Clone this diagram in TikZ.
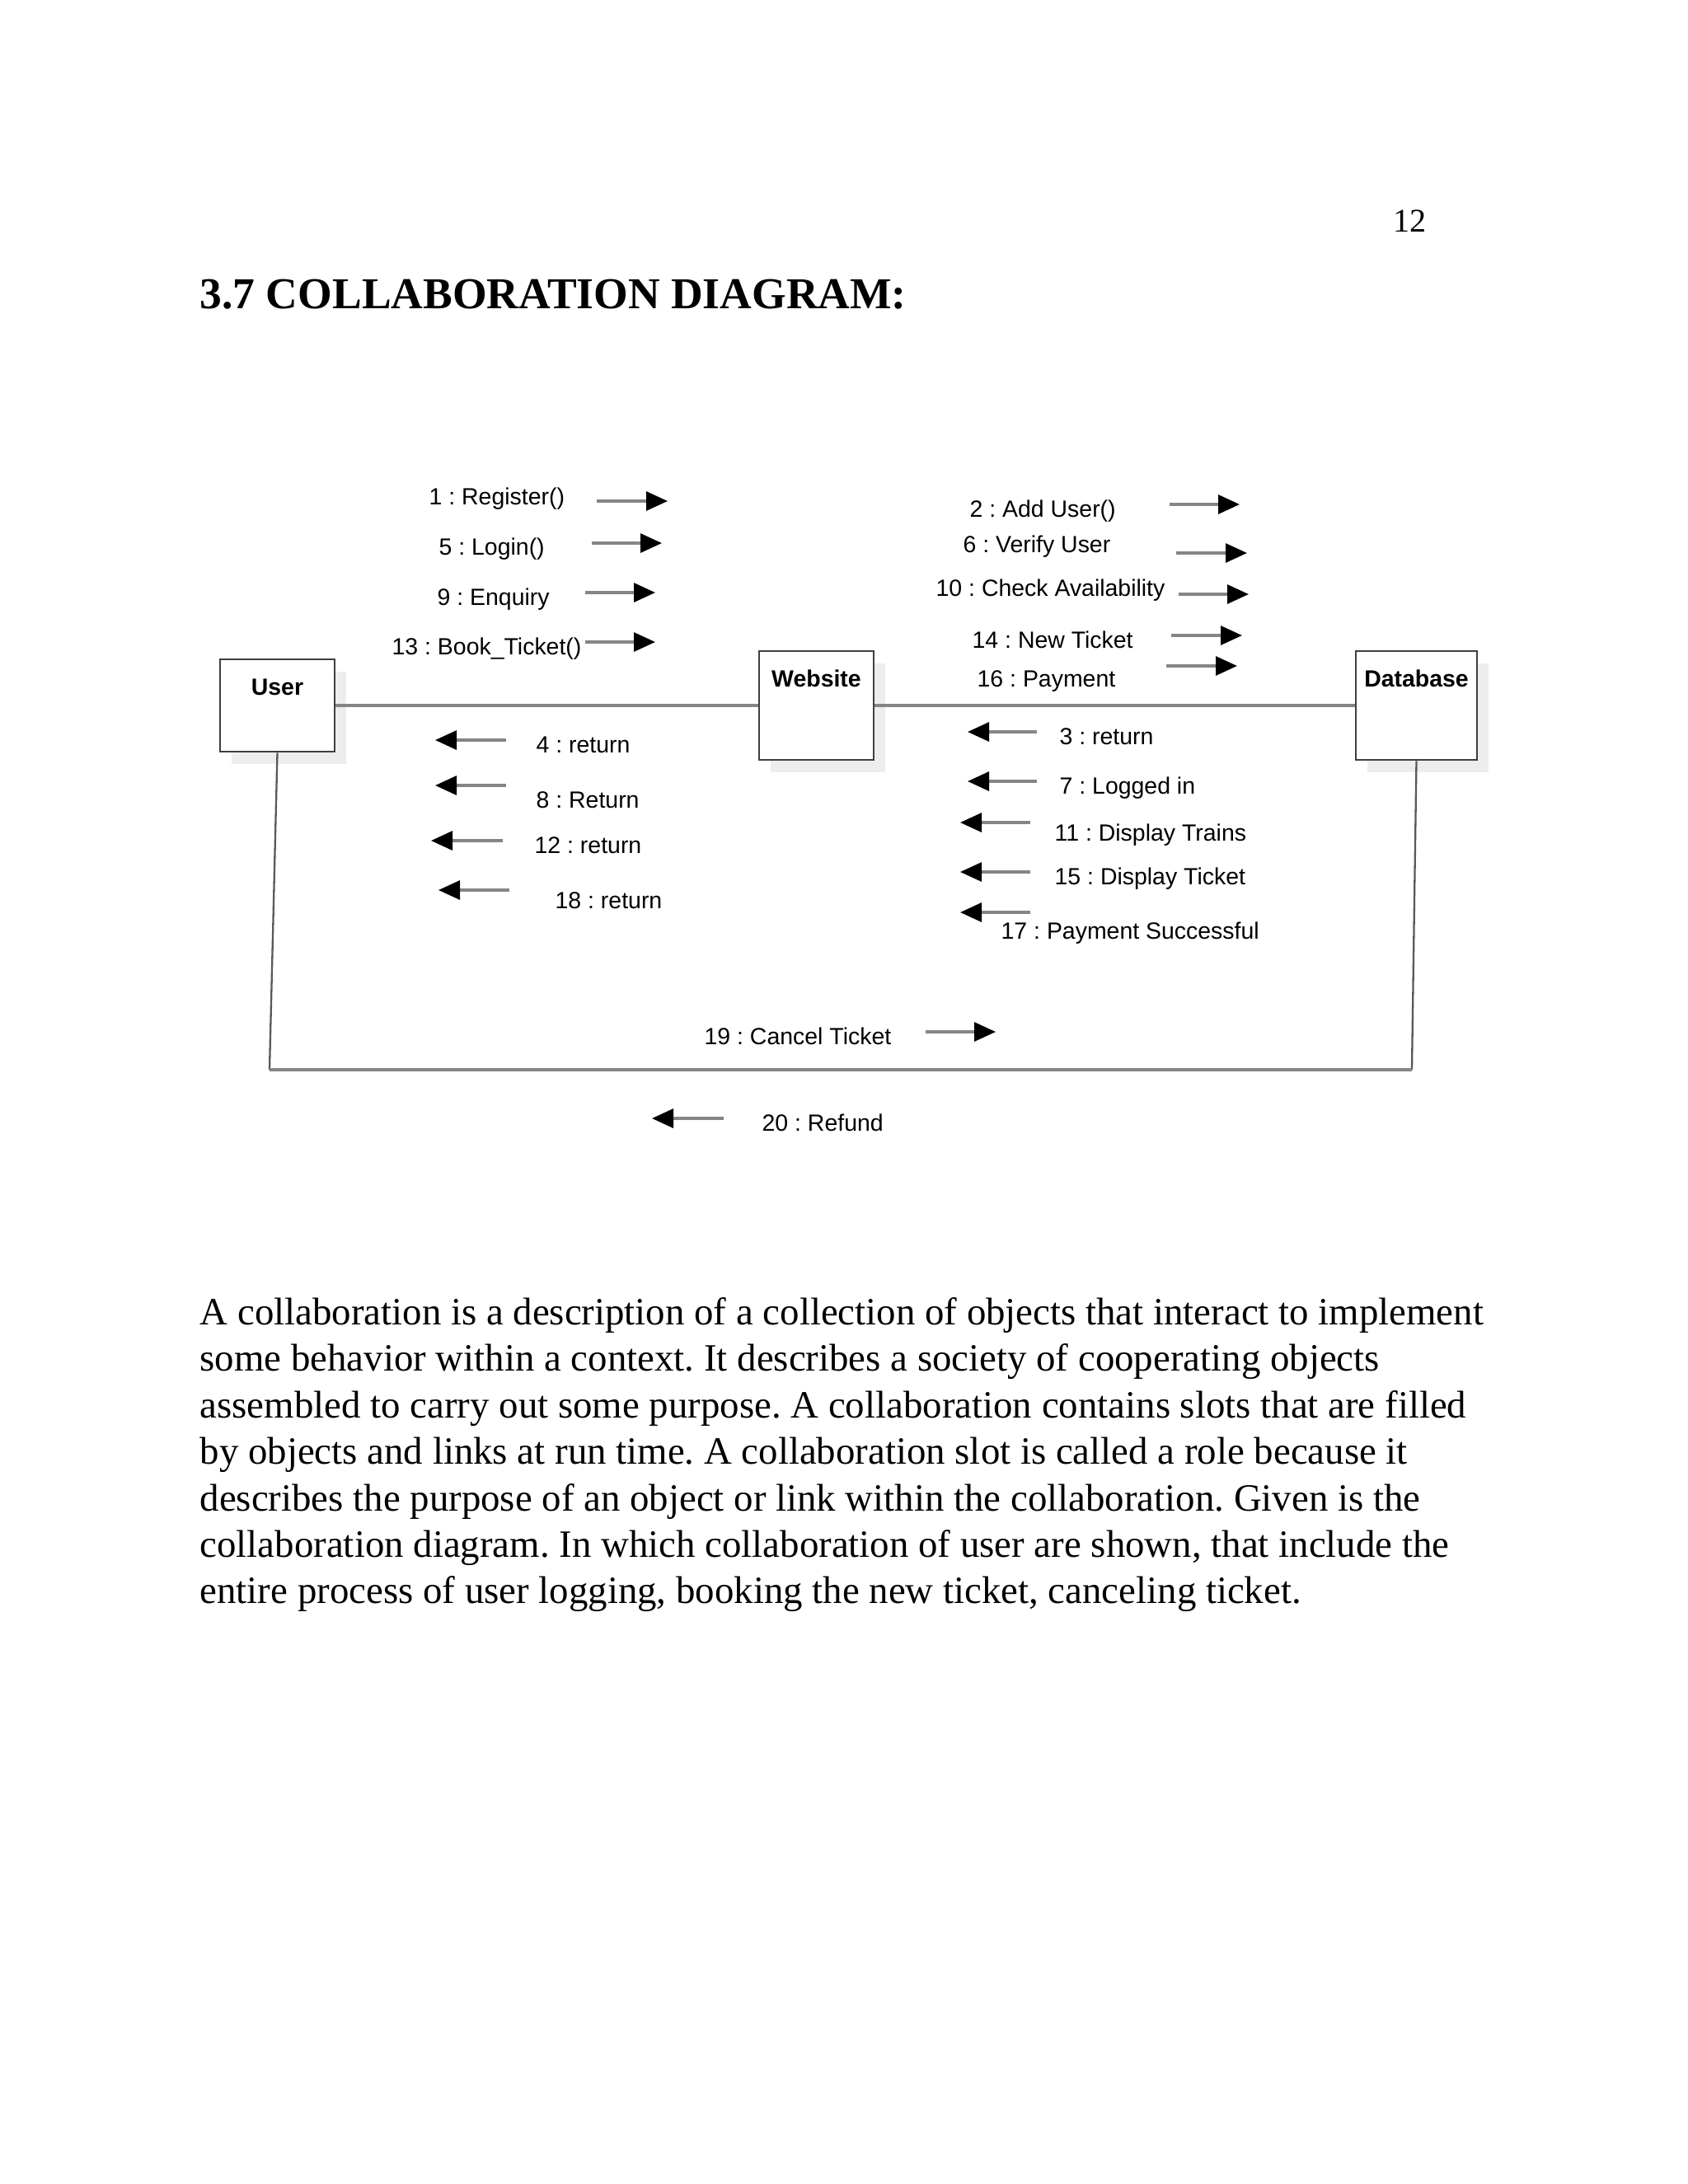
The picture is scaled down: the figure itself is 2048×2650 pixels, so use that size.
\documentclass[tikz,border=0pt]{standalone}
\usepackage{fontspec}
\setmainfont{Liberation Serif}
\newfontfamily\lblfont{Liberation Sans}
\usetikzlibrary{arrows.meta,calc,shadows}
\newlength\pxu
\setlength\pxu{0.29883pt}
\definecolor{linkgray}{HTML}{858585}
\definecolor{boxgray}{HTML}{3F3F3F}
\definecolor{shadowgray}{HTML}{EDEDED}
\tikzset{
  objbox/.style={draw=boxgray, line width=2.7\pxu, fill=white, inner sep=0pt,
    drop shadow={shadow xshift=14\pxu, shadow yshift=-15\pxu, fill=shadowgray, draw=none, opacity=1}},
  objname/.style={font=\lblfont\bfseries\fontsize{8.5}{10}\selectfont, anchor=base, inner sep=0pt},
  msglbl/.style={font=\lblfont\fontsize{8.5}{10}\selectfont, anchor=base west, inner sep=0pt},
  msg/.style={draw=linkgray, line width=3.3\pxu, -{Triangle[length=7.77pt,width=6.87pt,color=black]}},
  linkline/.style={draw=linkgray, line width=3.3\pxu},
  lifeline/.style={draw=black!65, line width=2.3\pxu},
  bottomline/.style={draw=linkgray, line width=4\pxu},
  bodyline/.style={font=\fontsize{14}{16.8}\selectfont, anchor=base west, inner sep=0pt},
}
\newcommand\msgarr[4]{\coordinate (#1s) at (#2,#4); \coordinate (#1e) at (#3,#4); \draw[msg] (#1s) -- (#1e);}
\begin{document}
\frenchspacing
\begin{tikzpicture}[x=0.29883pt,y=-0.29883pt]
\useasboundingbox (0,0) rectangle (2048,2650);
\fill[white] (0,0) rectangle (2048,2650);

% page number and heading
\node[font=\fontsize{12}{14}\selectfont, anchor=base east, inner sep=0pt] (pagenum) at (1731,281) {12};
\node[font=\bfseries\fontsize{16}{19}\selectfont, anchor=base west, inner sep=0pt] (heading) at (242,374) {3.7 COLLABORATION DIAGRAM:};

% objects
\node[objbox, minimum width=139\pxu, minimum height=112\pxu] (User) at (336.5,856) {};
\node[objbox, minimum width=139\pxu, minimum height=132\pxu] (Website) at (990.5,856) {};
\node[objbox, minimum width=147\pxu, minimum height=132\pxu] (Database) at (1718.5,856) {};
\node[objname] (userlbl) at ($(User.north)+(0,45)$) {User};
\node[objname] (weblbl) at ($(Website.north)+(0,45)$) {Website};
\node[objname] (dblbl) at ($(Database.north)+(0,45)$) {Database};

% links
\draw[linkline] (User.east) -- (Website.west);
\draw[linkline] (Website.east) -- (Database.west);
\coordinate (cornerL) at (327,1298);
\coordinate (cornerR) at (1713,1298);
\draw[lifeline] (User.south) -- (cornerL);
\draw[lifeline] (Database.south) -- (cornerR);
\draw[bottomline] (cornerL) -- (cornerR);

% messages User -> Website
\msgarr{a1}{724}{810}{608}
\msgarr{a5}{718}{803}{659}
\msgarr{a9}{710}{795}{719}
\msgarr{a13}{710}{795}{779}
\node[msglbl] (t1) at (520,612) {1 : Register()};
\node[msglbl] (t5) at (532,673) {5 : Login()};
\node[msglbl] (t9) at (530,734) {9 : Enquiry};
\node[msglbl] (t13) at (475,794) {13 : Book\_Ticket()};

% returns Website -> User
\msgarr{a4}{614}{528}{898}
\msgarr{a8}{614}{528}{953}
\msgarr{a12}{610}{523}{1020}
\msgarr{a18}{618}{532}{1080}
\node[msglbl] (t4) at (650,913) {4 : return};
\node[msglbl] (t8) at (650,980) {8 : Return};
\node[msglbl] (t12) at (648,1035) {12 : return};
\node[msglbl] (t18) at (673,1102) {18 : return};

% messages Website -> Database
\msgarr{a2}{1419}{1504}{612}
\msgarr{a6}{1427}{1513}{671}
\msgarr{a10}{1430}{1515}{721}
\msgarr{a14}{1421}{1507}{771}
\msgarr{a16}{1415}{1501}{808}
\node[msglbl] (t2) at (1176,627) {2 : Add User()};
\node[msglbl] (t6) at (1168,670) {6 : Verify User};
\node[msglbl] (t10) at (1135,723) {10 : Check Availability};
\node[msglbl] (t14) at (1179,786) {14 : New Ticket};
\node[msglbl] (t16) at (1185,833) {16 : Payment};

% returns Database -> Website
\msgarr{a3}{1258}{1174}{888}
\msgarr{a7}{1258}{1174}{948}
\msgarr{a11}{1250}{1165}{998}
\msgarr{a15}{1250}{1165}{1058}
\msgarr{a17}{1250}{1165}{1107}
\node[msglbl] (t3) at (1285,903) {3 : return};
\node[msglbl] (t7) at (1285,963) {7 : Logged in};
\node[msglbl] (t11) at (1279,1020) {11 : Display Trains};
\node[msglbl] (t15) at (1279,1073) {15 : Display Ticket};
\node[msglbl] (t17) at (1214,1139) {17 : Payment Successful};

% User <-> Database
\msgarr{a19}{1123}{1208}{1252}
\msgarr{a20}{878}{791}{1357}
\node[msglbl] (t19) at (854,1267) {19 : Cancel Ticket};
\node[msglbl] (t20) at (924,1372) {20 : Refund};

% body text
\node[bodyline] (p1) at (242,1607) {A collaboration is a description of a collection of objects that interact to implement};
\node[bodyline] (p2) at (242,1663) {some behavior within a context. It describes a society of cooperating objects};
\node[bodyline] (p3) at (242,1720) {assembled to carry out some purpose. A collaboration contains slots that are filled};
\node[bodyline] (p4) at (242,1776) {by objects and links at run time. A collaboration slot is called a role because it};
\node[bodyline] (p5) at (242,1833) {describes the purpose of an object or link within the collaboration. Given is the};
\node[bodyline] (p6) at (242,1889) {collaboration diagram. In which collaboration of user are shown, that include the};
\node[bodyline] (p7) at (242,1945) {entire process of user logging, booking the new ticket, canceling ticket.};
\end{tikzpicture}
\end{document}
